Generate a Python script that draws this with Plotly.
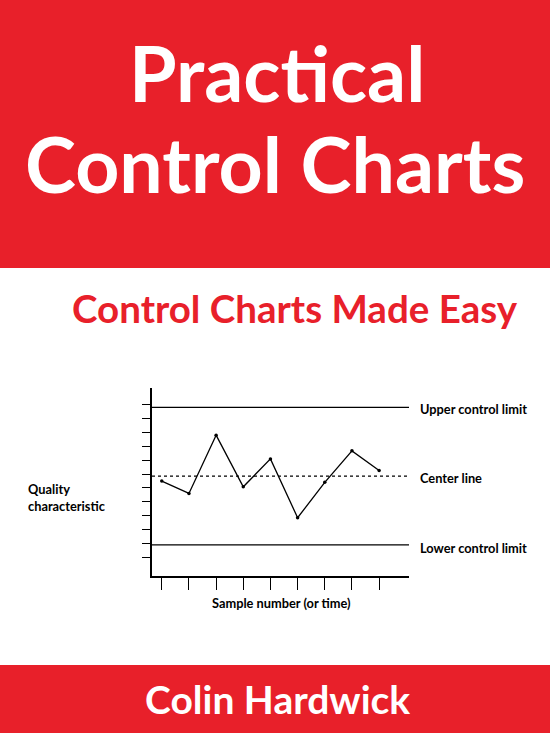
import plotly.graph_objects as go

samples = [1, 2, 3, 4, 5, 6, 7, 8, 9]
values = [6.49, 5.6, 9.8, 6.08, 8.09, 3.85, 6.4, 8.67, 7.26]
ucl, center, lcl = 11.8, 6.85, 1.9
ytick_vals = list(range(1, 13))

W, H = 550, 733
RED = "#E8202A"
FONT = "Lato"

def py(p):
    return 1 - p / H

fig = go.Figure()
fig.add_trace(go.Scatter(x=samples, y=values, mode="lines+markers",
                         line=dict(color="black", width=1.3),
                         marker=dict(color="black", size=3.5), showlegend=False))
x0, x1 = 0.64, 10.1
for yv, dash in [(ucl, "solid"), (center, "dot"), (lcl, "solid")]:
    fig.add_trace(go.Scatter(x=[x0, x1], y=[yv, yv], mode="lines",
                             line=dict(color="black", width=1.3, dash=dash), showlegend=False))

fig.update_xaxes(domain=[152 / W, 409 / W], range=[x0, x1], showgrid=False, zeroline=False,
                 showline=True, linecolor="black", linewidth=1.5, tickmode="array",
                 tickvals=samples, ticktext=[""] * 9, ticks="outside", ticklen=12,
                 tickcolor="black", tickwidth=1.3)
fig.update_yaxes(domain=[py(576), py(388)], range=[-0.35, 13.2], showgrid=False, zeroline=False,
                 showline=True, linecolor="black", linewidth=1.5, tickmode="array",
                 tickvals=ytick_vals, ticktext=[""] * 12, ticks="outside", ticklen=8,
                 tickcolor="black", tickwidth=1.3)

shapes = [
    dict(type="rect", xref="paper", yref="paper", x0=0, x1=1, y0=py(268), y1=1,
         fillcolor=RED, line_width=0, layer="below"),
    dict(type="rect", xref="paper", yref="paper", x0=0, x1=1, y0=0, y1=py(665),
         fillcolor=RED, line_width=0, layer="below"),
]

def ann(text, x, y, size, color="black", xanchor="center"):
    return dict(text="<b>" + text + "</b>", xref="paper", yref="paper", x=x / W, y=py(y),
                showarrow=False, xanchor=xanchor, yanchor="middle", align=xanchor,
                font=dict(family=FONT, size=size, color=color))

annotations = [
    ann("Practical", 277, 72, 77, "white"),
    ann("Control Charts", 275, 163, 77, "white"),
    ann("Control Charts Made Easy", 295, 308, 38.5, RED),
    ann("Colin Hardwick", 277, 699, 39, "white"),
    ann("Upper control limit", 418, 409, 12.8, xanchor="left"),
    ann("Center line", 418, 478, 12.8, xanchor="left"),
    ann("Lower control limit", 418, 548, 12.8, xanchor="left"),
    ann("Quality<br>characteristic", 26, 497, 12.8, xanchor="left"),
    ann("Sample number (or time)", 281, 603, 12.8),
]

fig.update_layout(width=W, height=H, margin=dict(l=0, r=0, t=0, b=0),
                  paper_bgcolor="white", plot_bgcolor="white",
                  shapes=shapes, annotations=annotations)
fig.write_html("out.html", config={"displayModeBar": False},
               post_script="document.body.style.margin='0';")
